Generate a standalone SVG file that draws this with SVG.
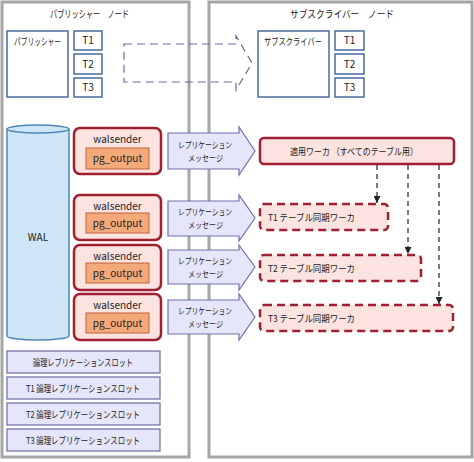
<svg xmlns="http://www.w3.org/2000/svg" width="474" height="462" viewBox="0 0 474 462">
<defs>
<style>
text{font-family:"Noto Sans CJK JP","Liberation Sans",sans-serif;fill:#222;}
.panel{fill:#fff;stroke:#a6a6a6;stroke-width:3;}
.box{fill:#fff;stroke:#4a6a9a;stroke-width:1.5;}
.ws{fill:#fbe3e0;stroke:#a11f32;stroke-width:2.5;}
.pg{fill:#f4a97a;stroke:#c0603a;stroke-width:1;}
.msg{fill:#e6e6fa;stroke:#7070b0;stroke-width:1.2;}
.slot{fill:#e6e6fa;stroke:#6a6aa0;stroke-width:1.2;}
.worker{fill:#fbe3e0;stroke:#a11f32;stroke-width:2.5;}
.dworker{fill:#fbe3e0;stroke:#a11f32;stroke-width:2.5;stroke-dasharray:8,5;}
.conn{fill:none;stroke:#222;stroke-width:1.2;stroke-dasharray:5,4;}
.t10{font-size:10px;}
.j{font-size:9.500px;}
.m{font-size:8.500px;}
</style>
<marker id="ah" viewBox="0 0 10 10" refX="10" refY="5" markerWidth="7" markerHeight="7" orient="auto" markerUnits="userSpaceOnUse">
<path d="M0,0 L10,5 L0,10 z" fill="#222"/>
</marker>
</defs>

<g id="publisher-node">
<rect class="panel" x="2" y="2" width="187" height="455"/>
<text class="t10" x="50" y="18" textLength="79" lengthAdjust="spacingAndGlyphs">パブリッシャー　ノード</text>
</g>
<g id="subscriber-node">
<rect class="panel" x="209" y="2" width="263" height="455"/>
<text class="t10" x="290" y="18" textLength="104" lengthAdjust="spacingAndGlyphs">サブスクライバー　ノード</text>
</g>

<g id="connectors">
<path d="M124,44 H236 V36 L252,63 L236,90 V82 H124 Z" fill="none" stroke="#6b6ba0" stroke-width="1.2" stroke-dasharray="8,5"/>
<line class="conn" x1="377" y1="165" x2="377" y2="203" marker-end="url(#ah)"/>
<line class="conn" x1="408" y1="165" x2="408" y2="254" marker-end="url(#ah)"/>
<line class="conn" x1="439" y1="165" x2="439" y2="304" marker-end="url(#ah)"/>
</g>

<g id="publisher">
<rect class="box" x="7" y="31" width="61" height="66"/>
<text class="j" x="14" y="45" textLength="47" lengthAdjust="spacingAndGlyphs">パブリッシャー</text>
</g>
<g id="pub-t1"><rect class="box" x="74" y="31" width="28" height="19"/><text class="t10" x="88" y="44" text-anchor="middle">T1</text></g>
<g id="pub-t2"><rect class="box" x="74" y="54" width="28" height="20"/><text class="t10" x="88" y="68" text-anchor="middle">T2</text></g>
<g id="pub-t3"><rect class="box" x="74" y="78" width="28" height="19"/><text class="t10" x="88" y="91" text-anchor="middle">T3</text></g>

<g id="subscriber">
<rect class="box" x="258" y="31" width="71" height="66"/>
<text class="j" x="264" y="45" textLength="58" lengthAdjust="spacingAndGlyphs">サブスクライバー</text>
</g>
<g id="sub-t1"><rect class="box" x="335" y="31" width="29" height="19"/><text class="t10" x="349.500" y="44" text-anchor="middle">T1</text></g>
<g id="sub-t2"><rect class="box" x="335" y="54" width="29" height="20"/><text class="t10" x="349.500" y="68" text-anchor="middle">T2</text></g>
<g id="sub-t3"><rect class="box" x="335" y="78" width="29" height="19"/><text class="t10" x="349.500" y="91" text-anchor="middle">T3</text></g>

<g id="wal">
<path d="M7,129 V336 A31,4 0 0 0 69,336 V129" fill="#cfe6f7" stroke="#4f86b8" stroke-width="1.5"/>
<ellipse cx="38" cy="129" rx="31" ry="4" fill="#cfe6f7" stroke="#4f86b8" stroke-width="1.5"/>
<text class="t10" x="38" y="241" text-anchor="middle">WAL</text>
</g>

<g id="walsender1">
<rect class="ws" x="74" y="128" width="87" height="46" rx="6"/>
<text class="t10" x="117.500" y="143" text-anchor="middle">walsender</text>
<rect class="pg" x="86" y="148" width="63" height="21"/>
<text class="t10" x="117.500" y="162" text-anchor="middle">pg_output</text>
</g>
<g id="walsender2">
<rect class="ws" x="74" y="195" width="87" height="45" rx="6"/>
<text class="t10" x="117.500" y="210" text-anchor="middle">walsender</text>
<rect class="pg" x="86" y="213" width="63" height="20"/>
<text class="t10" x="117.500" y="227" text-anchor="middle">pg_output</text>
</g>
<g id="walsender3">
<rect class="ws" x="74" y="245" width="87" height="45" rx="6"/>
<text class="t10" x="117.500" y="260" text-anchor="middle">walsender</text>
<rect class="pg" x="86" y="263" width="63" height="20"/>
<text class="t10" x="117.500" y="277" text-anchor="middle">pg_output</text>
</g>
<g id="walsender4">
<rect class="ws" x="74" y="294" width="87" height="46" rx="6"/>
<text class="t10" x="117.500" y="309" text-anchor="middle">walsender</text>
<rect class="pg" x="86" y="313" width="63" height="20"/>
<text class="t10" x="117.500" y="327" text-anchor="middle">pg_output</text>
</g>

<g id="msg1">
<path class="msg" d="M168,133 H239 V127 L255,151 L239,175 V169 H168 Z"/>
<text class="m" x="178" y="148" textLength="54" lengthAdjust="spacingAndGlyphs">レプリケーション</text>
<text class="m" x="188" y="161" textLength="35" lengthAdjust="spacingAndGlyphs">メッセージ</text>
</g>
<g id="msg2">
<path class="msg" d="M168,201 H239 V195 L255,218 L239,241 V236 H168 Z"/>
<text class="m" x="178" y="215" textLength="54" lengthAdjust="spacingAndGlyphs">レプリケーション</text>
<text class="m" x="188" y="228" textLength="35" lengthAdjust="spacingAndGlyphs">メッセージ</text>
</g>
<g id="msg3">
<path class="msg" d="M168,250 H239 V245 L255,267 L239,290 V284 H168 Z"/>
<text class="m" x="178" y="264" textLength="54" lengthAdjust="spacingAndGlyphs">レプリケーション</text>
<text class="m" x="188" y="277" textLength="35" lengthAdjust="spacingAndGlyphs">メッセージ</text>
</g>
<g id="msg4">
<path class="msg" d="M168,300 H239 V294 L255,317 L239,340 V334 H168 Z"/>
<text class="m" x="178" y="314" textLength="54" lengthAdjust="spacingAndGlyphs">レプリケーション</text>
<text class="m" x="188" y="327" textLength="35" lengthAdjust="spacingAndGlyphs">メッセージ</text>
</g>

<g id="apply-worker">
<rect class="worker" x="260" y="138" width="194" height="26" rx="4"/>
<text class="j" x="290" y="155" textLength="128" lengthAdjust="spacingAndGlyphs">適用ワーカ （すべてのテーブル用）</text>
</g>
<g id="sync-t1">
<rect class="dworker" x="260" y="204" width="128" height="26" rx="4"/>
<text class="j" x="268" y="221" textLength="87" lengthAdjust="spacingAndGlyphs">T1 テーブル同期ワーカ</text>
</g>
<g id="sync-t2">
<rect class="dworker" x="260" y="255" width="161" height="26" rx="4"/>
<text class="j" x="268" y="272" textLength="87" lengthAdjust="spacingAndGlyphs">T2 テーブル同期ワーカ</text>
</g>
<g id="sync-t3">
<rect class="dworker" x="260" y="305" width="193" height="26" rx="4"/>
<text class="j" x="268" y="322" textLength="87" lengthAdjust="spacingAndGlyphs">T3 テーブル同期ワーカ</text>
</g>

<g id="slot0"><rect class="slot" x="7" y="351" width="153" height="22"/><text class="j" x="33" y="366" textLength="100" lengthAdjust="spacingAndGlyphs">論理レプリケーションスロット</text></g>
<g id="slot1"><rect class="slot" x="7" y="377" width="153" height="22"/><text class="j" x="26" y="392" textLength="114" lengthAdjust="spacingAndGlyphs">T1 論理レプリケーションスロット</text></g>
<g id="slot2"><rect class="slot" x="7" y="403" width="153" height="22"/><text class="j" x="26" y="418" textLength="114" lengthAdjust="spacingAndGlyphs">T2 論理レプリケーションスロット</text></g>
<g id="slot3"><rect class="slot" x="7" y="429" width="153" height="22"/><text class="j" x="26" y="444" textLength="114" lengthAdjust="spacingAndGlyphs">T3 論理レプリケーションスロット</text></g>
</svg>
